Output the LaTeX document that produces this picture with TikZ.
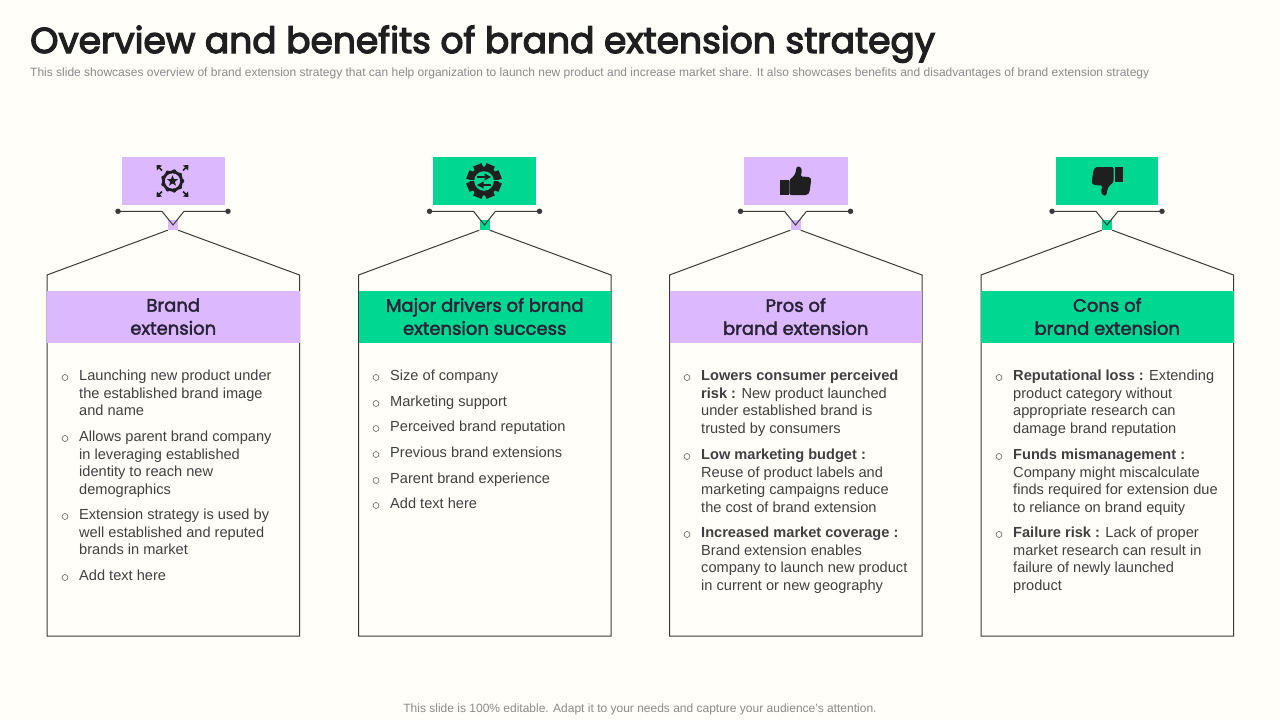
\documentclass[tikz,border=0pt]{standalone}
\usepackage{fontspec}
\setmainfont{Liberation Sans}
\newfontfamily\headfont[FakeBold=2.3]{Poppins}
\newfontfamily\titlefont[FakeBold=3.4]{Poppins}
\usetikzlibrary{shapes.geometric,arrows.meta}
\definecolor{pagebg}{HTML}{FFFEF8}
\definecolor{lilac}{HTML}{DCB9FF}
\definecolor{mint}{HTML}{00D892}
\definecolor{ink}{HTML}{1F1F1F}
\definecolor{bodyink}{HTML}{404040}
\definecolor{headink}{HTML}{2A2338}
\definecolor{lineink}{HTML}{3A3A3A}
\definecolor{greyink}{HTML}{8A8A8A}
\tikzset{
  x=1pt,y=-1pt,
  line/.style={draw=lineink,line width=1pt},
  dotnode/.style={circle,fill=lineink,inner sep=0pt,minimum size=5.5pt},
  knot/.style={rectangle,inner sep=0pt,minimum width=10pt,minimum height=10pt},
  iconbox/.style={rectangle,inner sep=0pt,minimum height=48pt},
  headbox/.style={rectangle,inner sep=0pt,minimum width=252.5pt,minimum height=52pt,align=center,text=headink,font=\headfont\fontsize{18}{23}\selectfont},
  bulletmark/.style={circle,draw=lineink!80,line width=0.6pt,inner sep=0pt,minimum size=6pt},
  para/.style={anchor=north west,inner sep=0pt,align=left,text=bodyink,font=\fontsize{14.6}{17.6}\selectfont},
}
\newcommand{\bl}[5]{% id, x of bullet, y centre, x of text, text
  \node[bulletmark] (m#1) at (#2,#3+2.5) {};
  \node[para] (t#1) at (#4,#3-5.2) {#5};
}
\newcommand{\colm}[7]{% id, cx, colour, iconleft, iconright, boxleft, title
  \pgfmathsetmacro{\bxr}{#6+252.5}
  \node[iconbox,fill=#3,minimum width=#5pt-#4pt] (ic#1) at ({(#4+#5)/2},181) {};
  \node[knot,fill=#3] (k#1) at (#2,225) {};
  \node[dotnode] (dl#1) at (#2-55,211.3) {};
  \node[dotnode] (dr#1) at (#2+55,211.3) {};
  \coordinate (a#1) at (#2-11,211.3);
  \coordinate (b#1) at (#2,225);
  \coordinate (c#1) at (#2+11,211.3);
  \draw[line] (dl#1.center) -- (a#1) -- (b#1) -- (c#1) -- (dr#1.center);
  \coordinate (tl#1) at (#6,275);
  \coordinate (bl#1) at (#6,636);
  \coordinate (br#1) at (\bxr,636);
  \coordinate (tr#1) at (\bxr,275);
  \draw[line] (k#1.south west) -- (tl#1) -- (bl#1) -- (br#1) -- (tr#1) -- (k#1.south east);
  \node[headbox,fill=#3] (h#1) at ({#6+126.25},316.5) {#7};
}
\begin{document}
\begin{tikzpicture}
\useasboundingbox (0,0) rectangle (1280,720);
\fill[pagebg] (0,0) rectangle (1280,720);

\node[anchor=base west,inner sep=0pt,text=ink,font=\titlefont\fontsize{36}{40}\selectfont] (title) at (30,53) {Overview and benefits of brand extension strategy};
\node[anchor=west,inner sep=0pt,text=greyink,font=\fontsize{12}{14}\selectfont] (sub) at (30,73) {This slide showcases overview of brand extension strategy that can help organization to launch new product and increase market share. It also showcases benefits and disadvantages of brand extension strategy};
\node[inner sep=0pt,text=greyink,font=\fontsize{12}{14}\selectfont] (foot) at (640,709) {This slide is 100\% editable. Adapt it to your needs and capture your audience's attention.};

\colm{1}{173}{lilac}{122}{225}{47}{Brand\\extension}
\colm{2}{484.5}{mint}{433}{536}{358.5}{Major drivers of brand\\extension success}
\colm{3}{795.5}{lilac}{744}{848}{669.5}{Pros of\\brand extension}
\colm{4}{1107}{mint}{1056}{1158}{981}{Cons of\\brand extension}

% column 1
\bl{a1}{65}{375}{79}{Launching new product under\\the established brand image\\and name}
\bl{a2}{65}{436}{79}{Allows parent brand company\\in leveraging established\\identity to reach new\\demographics}
\bl{a3}{65}{514}{79}{Extension strategy is used by\\well established and reputed\\brands in market}
\bl{a4}{65}{575}{79}{Add text here}
% column 2
\bl{b1}{376}{375}{390}{Size of company}
\bl{b2}{376}{401}{390}{Marketing support}
\bl{b3}{376}{426}{390}{Perceived brand reputation}
\bl{b4}{376}{452}{390}{Previous brand extensions}
\bl{b5}{376}{478}{390}{Parent brand experience}
\bl{b6}{376}{503}{390}{Add text here}
% column 3
\bl{c1}{687}{375}{701}{\textbf{Lowers consumer perceived}\\\textbf{risk :} New product launched\\under established brand is\\trusted by consumers}
\bl{c2}{687}{454}{701}{\textbf{Low marketing budget :}\\Reuse of product labels and\\marketing campaigns reduce\\the cost of brand extension}
\bl{c3}{687}{532}{701}{\textbf{Increased market coverage :}\\Brand extension enables\\company to launch new product\\in current or new geography}
% column 4
\bl{d1}{999}{375}{1013}{\textbf{Reputational loss :} Extending\\product category without\\appropriate research can\\damage brand reputation}
\bl{d2}{999}{454}{1013}{\textbf{Funds mismanagement :}\\Company might miscalculate\\finds required for extension due\\to reliance on brand equity}
\bl{d3}{999}{532}{1013}{\textbf{Failure risk :} Lack of proper\\market research can result in\\failure of newly launched\\product}

% icon 1: badge with arrows
\begin{scope}[shift={(172.5,181)}]
  \foreach \a in {0,40,...,320}{\fill[ink] (\a:9.6) circle (2.2);}
  \fill[ink] (0,0) circle (10.6);
  \fill[lilac] (0,0) circle (7.6);
  \node[star,star points=5,star point ratio=2.3,fill=ink,inner sep=0pt,minimum size=11.5pt] (star1) at (0,0) {};
  \foreach \sx in {-1,1}{\foreach \sy in {-1,1}{
    \draw[ink,line width=1.6pt] (\sx*10.5,\sy*10.5) -- (\sx*13,\sy*13);
    \fill[ink] (\sx*16,\sy*16) -- (\sx*10.5,\sy*15.6) -- (\sx*15.6,\sy*10.5) -- cycle;
  }}
\end{scope}

% icon 2: gear with exchange arrows
\begin{scope}[shift={(484,181)}]
  \foreach \a in {0,45,...,315}{\fill[ink,rotate=\a+22.5] (-4.5,-17.5) rectangle (4.5,-10);}
  \fill[ink] (0,0) circle (14.5);
  \fill[mint] (0,0) circle (9.8);
  \fill[mint] (-18,-1.2) rectangle (-9,0);
  \fill[mint] (9,-1.2) rectangle (18,0);
  \fill[ink] (-7,-5.2) rectangle (1,-2.8);
  \fill[ink] (0.5,-7.6) -- (7,-4) -- (0.5,-0.5) -- cycle;
  \fill[ink] (-1,2.8) rectangle (7,5.2);
  \fill[ink] (-0.5,0.5) -- (-7,4) -- (-0.5,7.6) -- cycle;
\end{scope}

% icon 3: thumb up
\begin{scope}[shift={(795.5,181)}]
  \fill[ink] (-15.5,-1) rectangle (-7,14);
  \fill[ink,rounded corners=1.5pt] (-6.2,-1) -- (-1.5,-5) -- (0.5,-9.5) -- (1,-14.5) -- (5,-14.5) -- (6.5,-10) -- (5,-4.5) -- (14.5,-4) -- (15.8,-1) -- (15,4) -- (14,11) -- (12,14) -- (0,14) -- (-6.2,14) -- cycle;
\end{scope}

% icon 4: thumb down
\begin{scope}[shift={(1107.5,181)},xscale=-1,yscale=-1]
  \fill[ink] (-15.5,-1) rectangle (-7,14);
  \fill[ink,rounded corners=1.5pt] (-6.2,-1) -- (-1.5,-5) -- (0.5,-9.5) -- (1,-14.5) -- (5,-14.5) -- (6.5,-10) -- (5,-4.5) -- (14.5,-4) -- (15.8,-1) -- (15,4) -- (14,11) -- (12,14) -- (0,14) -- (-6.2,14) -- cycle;
\end{scope}
\end{tikzpicture}
\end{document}
